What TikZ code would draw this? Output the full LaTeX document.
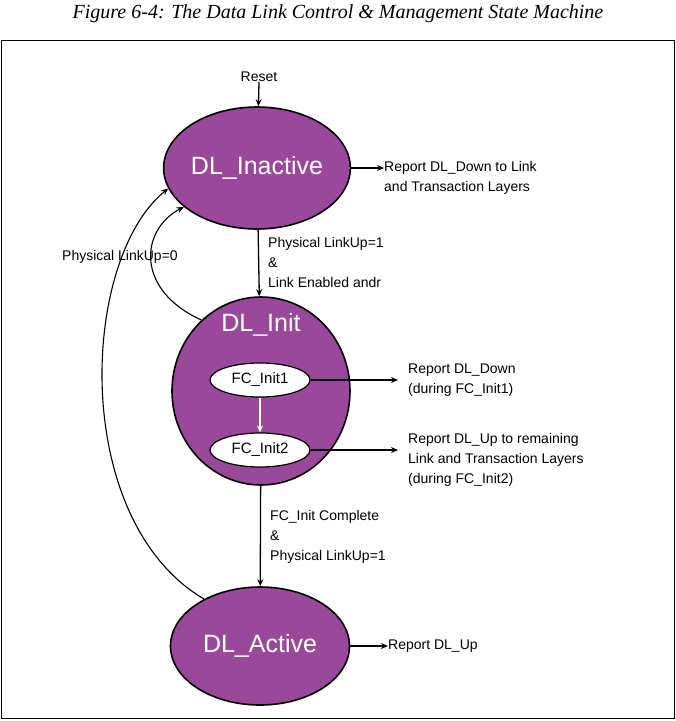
\documentclass[tikz,border=0pt]{standalone}
\usepackage{fontspec}
\setmainfont{Liberation Sans}
\newfontfamily\titlefont{Liberation Serif}
\usetikzlibrary{shapes.geometric,arrows.meta}
\definecolor{st}{HTML}{9A489A}
\begin{document}
\begin{tikzpicture}[x=1pt,y=-1pt,
  state/.style={ellipse,draw=black,line width=1.6pt,fill=st,text=white,font=\fontsize{25}{28}\selectfont,inner sep=0},
  sub/.style={ellipse,draw=black,line width=1.2pt,fill=white,font=\fontsize{15}{17}\selectfont,inner sep=0},
  lab/.style={font=\fontsize{14}{20}\selectfont,align=left,anchor=west,inner sep=0},
  arr/.style={-{Stealth[length=7pt,width=6pt]},line width=1.3pt},
  thin/.style={-{Stealth[length=7pt,width=6pt]},line width=1.1pt}]
\useasboundingbox (0,0) rectangle (676,721);
\node[font=\titlefont\itshape\fontsize{20}{22}\selectfont] (title) at (338,14) {Figure 6-4: The Data Link Control \& Management State Machine};
\draw[line width=1pt] (1,40) rectangle (674,718);
\node[state,minimum width=180,minimum height=122] (ina) at (257,168) {DL\_Inactive};
\node[state,minimum width=178,minimum height=188] (init) at (261,391) {};
\node[text=white,font=\fontsize{25}{28}\selectfont] (initl) at (261,325) {DL\_Init};
\node[sub,minimum width=100,minimum height=34] (fc1) at (260,380) {FC\_Init1};
\node[sub,minimum width=100,minimum height=34] (fc2) at (260,450) {FC\_Init2};
\node[state,minimum width=179,minimum height=118] (act) at (260,646) {DL\_Active};
\node[lab,anchor=south] (reset) at (259,82) {Reset};
\draw[arr] (reset.south) -- (ina);
\node[lab] (r1) at (384,178) {Report DL\_Down to Link\\and Transaction Layers};
\draw[arr] (ina.east) -- (r1.west|-ina.east);
\draw[arr] (ina) -- (init);
\node[lab] (c1) at (268,262) {Physical LinkUp=1\\\&\\Link Enabled andr};
\node[lab] (c0) at (62,257) {Physical LinkUp=0};
\draw[thin,white] (fc1) -- (fc2);
\node[lab] (r2) at (408,380) {Report DL\_Down\\(during FC\_Init1)};
\draw[arr] (fc1.east) -- ([xshift=-10pt]r2.west|-fc1.east);
\node[lab] (r3) at (408,460) {Report DL\_Up to remaining\\Link and Transaction Layers\\(during FC\_Init2)};
\draw[arr] (fc2.east) -- ([xshift=-10pt]r3.west|-fc2.east);
\draw[arr] (init) -- (act);
\node[lab] (c2) at (270,537) {FC\_Init Complete\\\&\\Physical LinkUp=1};
\node[lab] (r4) at (388,646) {Report DL\_Up};
\draw[arr] (act.east) -- (r4.west);
\draw[thin] (init.130) .. controls (135,290) and (140,230) .. (ina.208);
\draw[thin] (act.140) .. controls (70,520) and (80,260) .. (ina.193);
\end{tikzpicture}
\end{document}
